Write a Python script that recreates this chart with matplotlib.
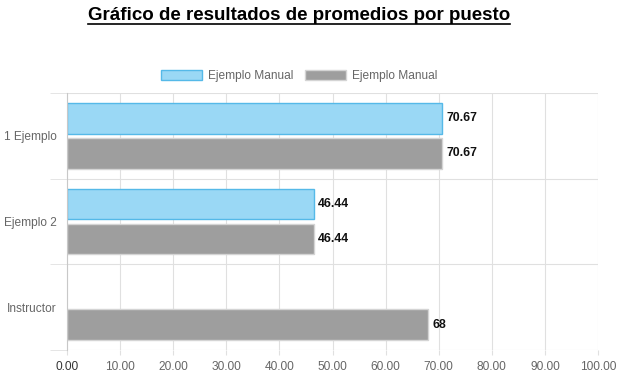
import matplotlib.pyplot as plt
from matplotlib.patches import Patch
from matplotlib.lines import Line2D
import numpy as np

plt.rcParams['font.family'] = ['Liberation Sans', 'DejaVu Sans']

# data
puestos = ["1 Ejemplo", "Ejemplo 2", "Instructor"]
serie_azul = [70.67, 46.44, None]
serie_gris = [70.67, 46.44, 68]
nombres = ["Ejemplo Manual", "Ejemplo Manual"]
x_ticks = [0, 10, 20, 30, 40, 50, 60, 70, 80, 90, 100]

azul = "#9ad8f5"
azul_borde = "#55b9e8"
gris = "#9e9e9e"
gris_borde = "#d4d4d4"
texto_gris = "#666666"

fig = plt.figure(figsize=(6.2, 3.77), dpi=100)
ax = fig.add_axes([67 / 620, 1 - 350 / 377, (598 - 67) / 620, (350 - 93) / 377])

y = np.arange(len(puestos))
alto = 0.36

for i, v in enumerate(serie_azul):
    if v is None:
        continue
    ax.barh(y[i] - 0.205, v, height=alto, color=azul, edgecolor=azul_borde, linewidth=1, zorder=3)
    ax.text(v + 0.8, y[i] - 0.205, "{:g}".format(v), va="center", ha="left",
            fontsize=8.8, fontweight="bold", color="#111111", zorder=4)

for i, v in enumerate(serie_gris):
    ax.barh(y[i] + 0.205, v, height=alto, color=gris, edgecolor=gris_borde, linewidth=1, zorder=3)
    ax.text(v + 0.8, y[i] + 0.205, "{:g}".format(v), va="center", ha="left",
            fontsize=8.8, fontweight="bold", color="#111111", zorder=4)

ax.set_xlim(0, 100)
ax.set_ylim(len(puestos) - 0.5, -0.5)

# x axis
ax.set_xticks(x_ticks)
ax.set_xticklabels(["{:.2f}".format(t) for t in x_ticks], fontsize=8.6, color=texto_gris)
ax.get_xticklabels()[0].set_color("#333333")
ax.tick_params(axis="x", length=3.6, color="#e0e0e0", pad=4)
ax.xaxis.grid(True, color="#e0e0e0", linewidth=0.8, zorder=0)

# y axis: labels on centres, grid on borders
ax.set_yticks(y)
ax.set_yticklabels(puestos, fontsize=8.6, color=texto_gris)
ax.tick_params(axis="y", which="major", length=0, pad=7.5)
ax.set_yticks(np.arange(len(puestos) + 1) - 0.5, minor=True)
ax.tick_params(axis="y", which="minor", length=12.2, color="#e0e0e0")
ax.yaxis.grid(True, which="minor", color="#e0e0e0", linewidth=0.8, zorder=0)

for s in ["top", "right", "bottom"]:
    ax.spines[s].set_visible(False)
ax.spines["left"].set_color("#c8c8c8")
ax.spines["left"].set_zorder(5)

# legend
handles = [Patch(facecolor=azul, edgecolor=azul_borde, linewidth=1),
           Patch(facecolor=gris, edgecolor=gris_borde, linewidth=1)]
leg = fig.legend(handles, nombres, loc="center", bbox_to_anchor=(299 / 620, 1 - 76 / 377),
                 ncol=2, frameon=False, fontsize=8.6, handlelength=3.4, handleheight=1.0,
                 handletextpad=0.5, columnspacing=1.0, labelcolor=texto_gris)

# title with underline
titulo = fig.text(299 / 620, 1 - 16 / 377, "Gráfico de resultados de promedios por puesto",
                  ha="center", va="center", fontsize=13.5, fontweight="bold", color="black")
fig.canvas.draw()
bb = titulo.get_window_extent().transformed(fig.transFigure.inverted())
fig.add_artist(Line2D([bb.x0, bb.x1], [bb.y0 + 0.002, bb.y0 + 0.002], color="black",
                      linewidth=1.2, transform=fig.transFigure))

fig.savefig("out.png", dpi=100)
